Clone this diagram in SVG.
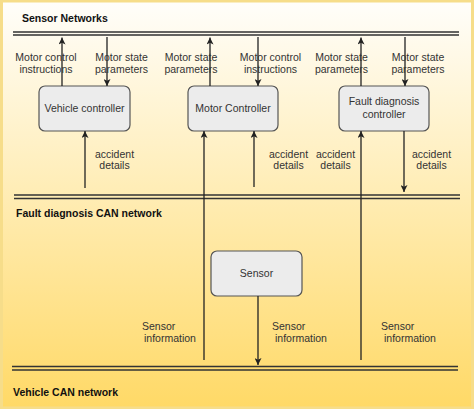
<svg xmlns="http://www.w3.org/2000/svg" width="474" height="409" viewBox="0 0 474 409">
<defs>
<linearGradient id="bg" x1="0" y1="0" x2="0" y2="1">
<stop offset="0" stop-color="#fffefb"/>
<stop offset="1" stop-color="#ffd966"/>
</linearGradient>
<marker id="ah" viewBox="0 0 10 10" refX="10" refY="5" markerWidth="7" markerHeight="7" markerUnits="userSpaceOnUse" orient="auto">
<path d="M0,0 L10,5 L0,10 L2.5,5 Z" fill="#222"/>
</marker>
</defs>
<style>
.t{font-family:"Liberation Sans",Arial,sans-serif;font-size:10.5px;fill:#333}
.c{text-anchor:middle}
.b{font-family:"Liberation Sans",Arial,sans-serif;font-size:10.5px;font-weight:bold;fill:#111}
.box{fill:#ececec;stroke:#555;stroke-width:1.2}
.bus{stroke:#333;stroke-width:1.4;fill:none}
.ln{stroke:#222;stroke-width:1.3;fill:none}
.ar{stroke:#222;stroke-width:1.3;fill:none;marker-end:url(#ah)}
</style>
<rect x="0" y="0" width="474" height="409" fill="url(#bg)"/>
<rect x="1.5" y="1" width="471" height="407" fill="none" stroke="#f6dd8a" stroke-width="3"/>

<g id="sensor-networks">
<text class="b" x="22" y="21.5">Sensor Networks</text>
<path class="bus" d="M13,32 H459 M13,35 H459"/>
</g>
<g id="fault-can">
<text class="b" x="16" y="217">Fault diagnosis CAN network</text>
<path class="bus" d="M14,195 H460 M14,198.5 H460"/>
</g>
<g id="vehicle-can">
<text class="b" x="13" y="396">Vehicle CAN network</text>
<path class="bus" d="M12,366.5 H458 M12,370 H458"/>
</g>

<g id="vehicle-controller">
<rect class="box" x="39" y="86" width="91" height="45" rx="6"/>
<text class="t c" x="84.5" y="112">Vehicle controller</text>
</g>
<g id="motor-controller">
<rect class="box" x="188" y="86" width="90" height="45" rx="6"/>
<text class="t c" x="233" y="112">Motor Controller</text>
</g>
<g id="fault-controller">
<rect class="box" x="339" y="86" width="90" height="45" rx="6"/>
<text class="t c" x="384" y="105">Fault diagnosis</text>
<text class="t c" x="384" y="117.5">controller</text>
</g>
<g id="sensor">
<rect class="box" x="211" y="251" width="91" height="45" rx="6"/>
<text class="t c" x="256.5" y="277">Sensor</text>
</g>

<g id="connectors">
<path class="ar" d="M62,86 V37.5"/>
<path class="ar" d="M107,37 V86"/>
<path class="ar" d="M210,86 V37.5"/>
<path class="ar" d="M258,37 V86"/>
<path class="ar" d="M361,86 V37.5"/>
<path class="ar" d="M405,37 V86"/>
<path class="ar" d="M85,188 V131"/>
<path class="ar" d="M254,187 V131"/>
<path class="ar" d="M404,131 V192"/>
<path class="ar" d="M204,360 V131"/>
<path class="ar" d="M361,360 V131"/>
<path class="ar" d="M258,296 V365"/>
</g>

<g id="labels">
<text class="t c" x="46" y="61">Motor control</text>
<text class="t c" x="46" y="73">instructions</text>
<text class="t c" x="121.5" y="61">Motor state</text>
<text class="t c" x="121.5" y="73">parameters</text>
<text class="t c" x="191" y="61">Motor state</text>
<text class="t c" x="191" y="73">parameters</text>
<text class="t c" x="270.5" y="61">Motor control</text>
<text class="t c" x="270.5" y="73">instructions</text>
<text class="t c" x="341.5" y="61">Motor state</text>
<text class="t c" x="341.5" y="73">parameters</text>
<text class="t c" x="418" y="61">Motor state</text>
<text class="t c" x="418" y="73">parameters</text>

<text class="t c" x="114.5" y="157.5">accident</text>
<text class="t c" x="114.5" y="169">details</text>
<text class="t c" x="288.5" y="157.5">accident</text>
<text class="t c" x="288.5" y="169">details</text>
<text class="t c" x="335.5" y="157.5">accident</text>
<text class="t c" x="335.5" y="169">details</text>
<text class="t c" x="431.5" y="157.5">accident</text>
<text class="t c" x="431.5" y="169">details</text>

<text class="t" x="142" y="330">Sensor</text>
<text class="t" x="144" y="342">information</text>
<text class="t" x="272" y="330">Sensor</text>
<text class="t" x="275" y="342">information</text>
<text class="t" x="381" y="330">Sensor</text>
<text class="t" x="384" y="342">information</text>
</g>
</svg>
